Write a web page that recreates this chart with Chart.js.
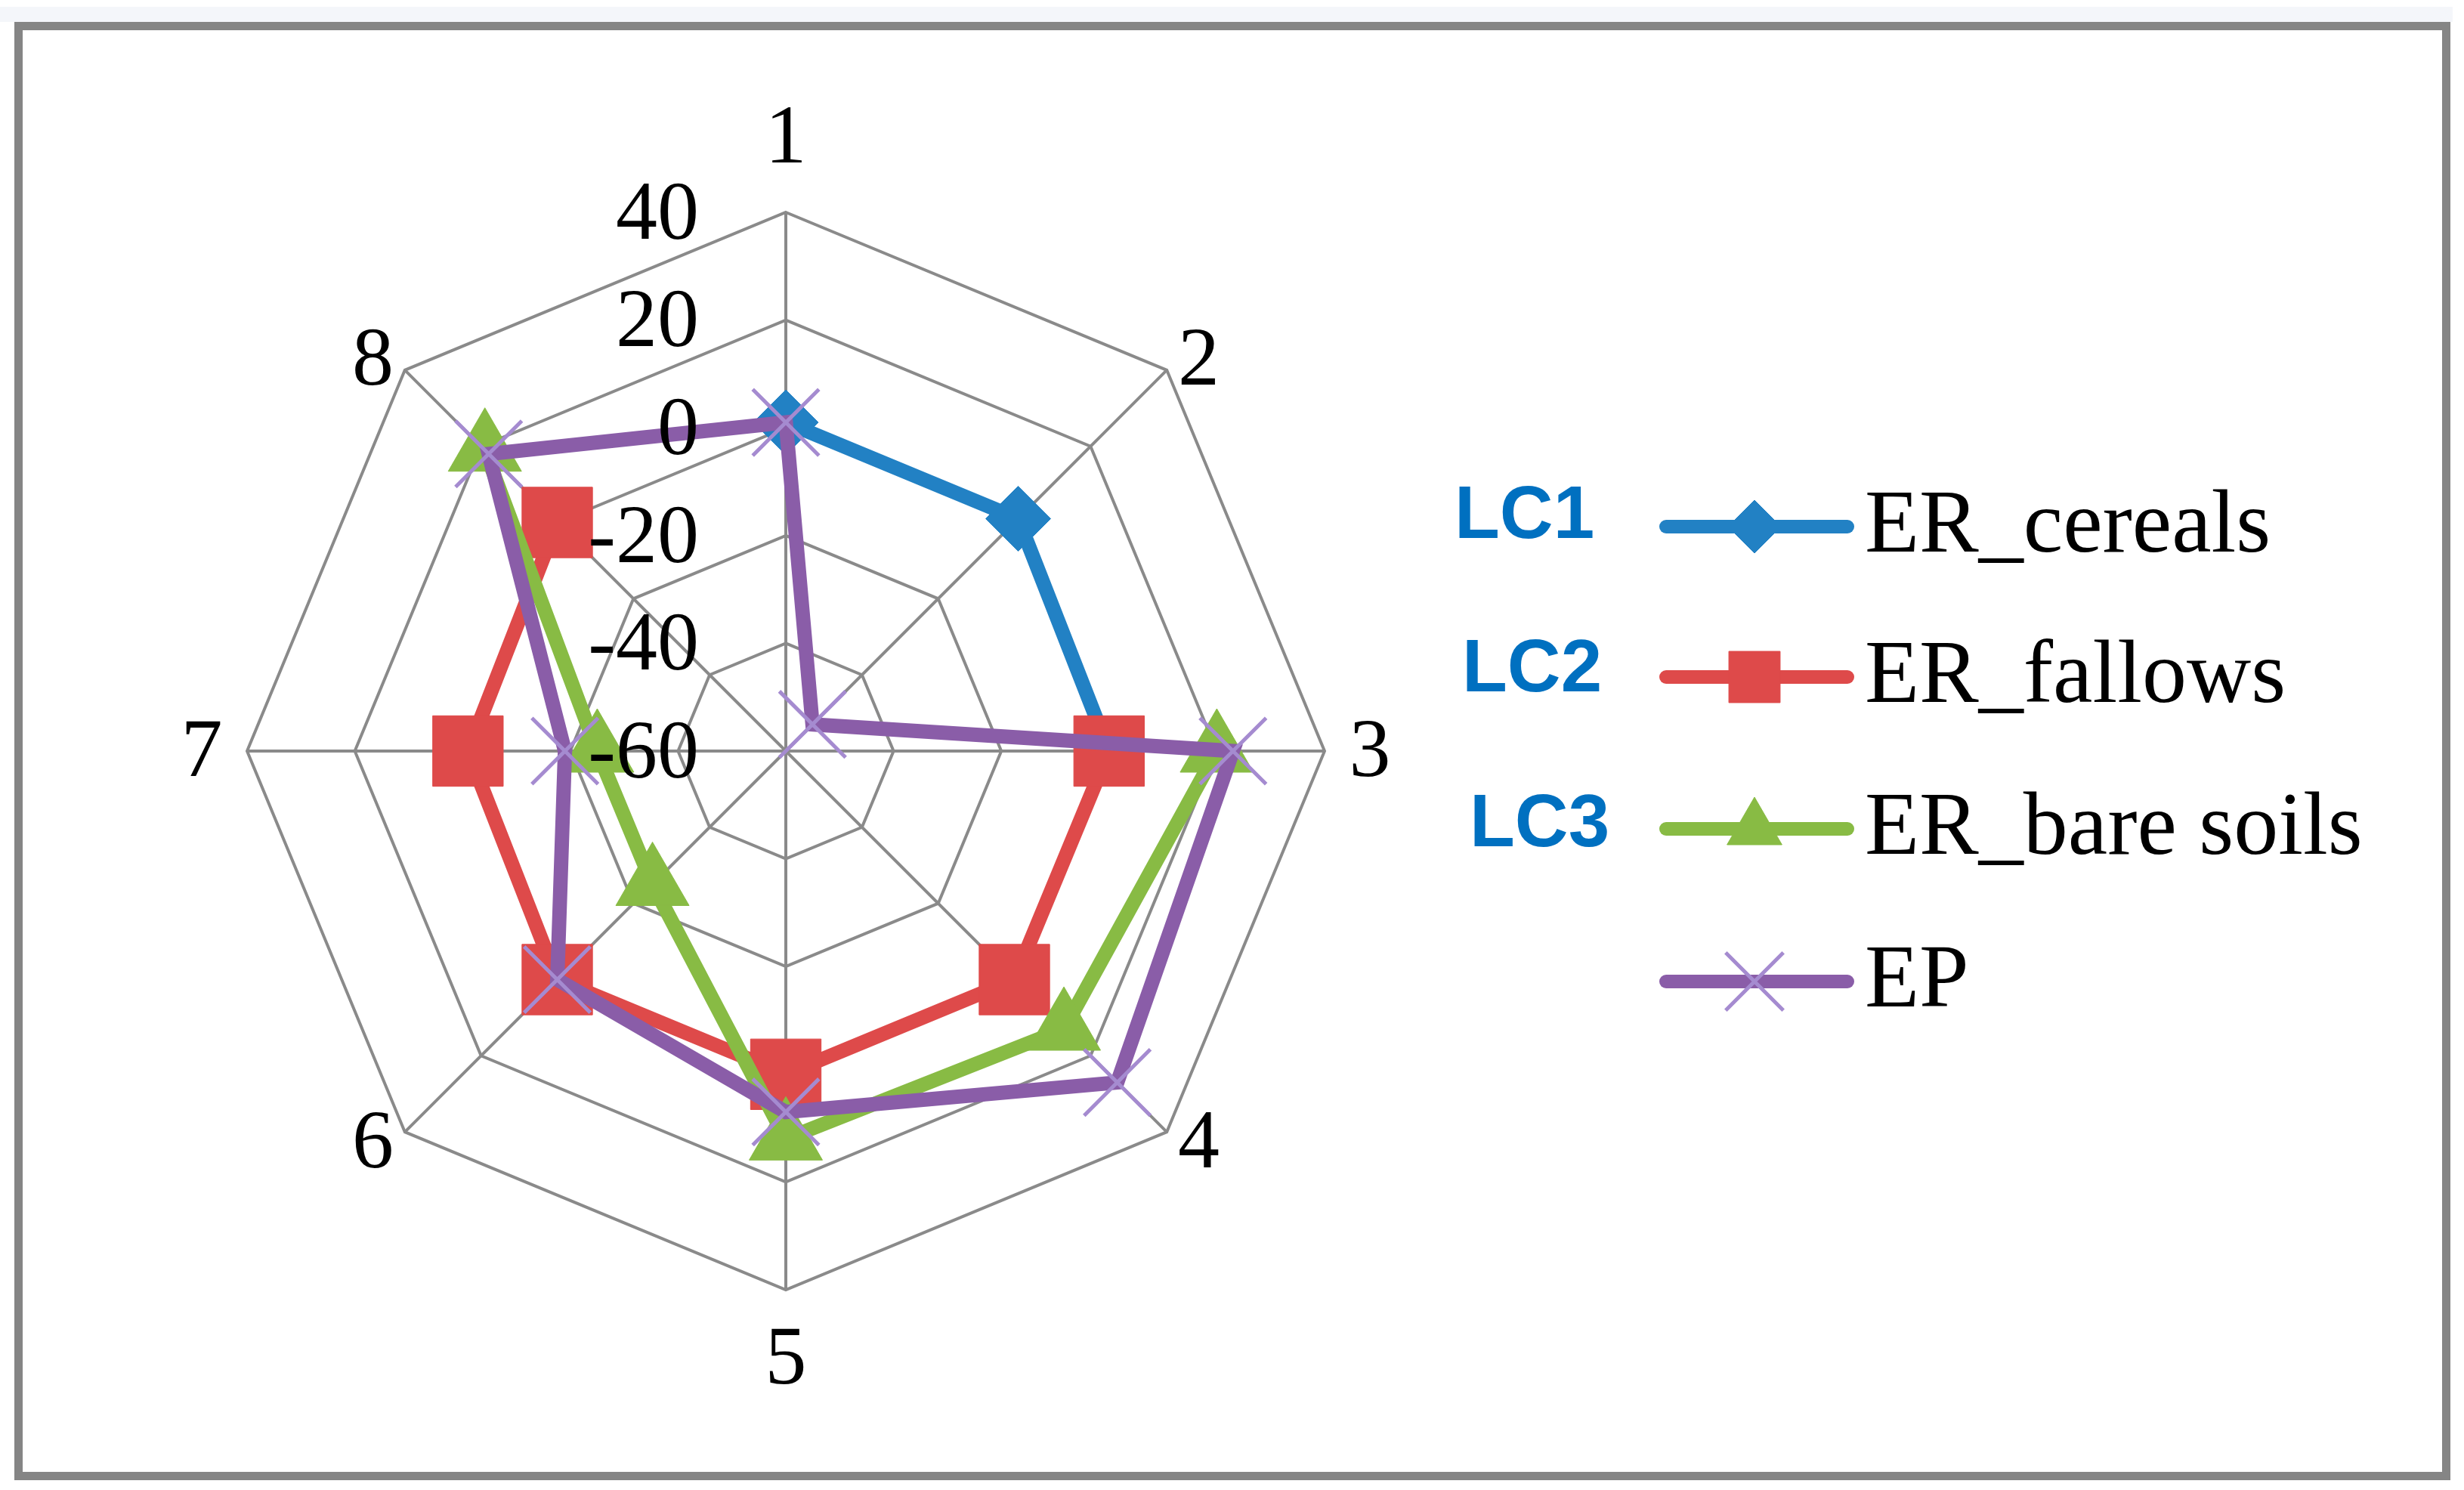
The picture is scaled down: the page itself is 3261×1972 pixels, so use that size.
<!DOCTYPE html>
<html>
<head>
<meta charset="utf-8">
<script src="https://cdn.jsdelivr.net/npm/chart.js@4.4.1/dist/chart.umd.min.js"></script>
<style>
  html, body { margin: 0; padding: 0; background: #fff; }
  #wrap { position: relative; width: 3261px; height: 1972px; overflow: hidden; background: #fff; }
  #band { position: absolute; left: 0; top: 9px; width: 3246px; height: 20px; background: #F4F6FA; }
  #frame { position: absolute; left: 19px; top: 29px; width: 3202px; height: 1908px; border: 11px solid #858585; background: #fff; }
  #radar { position: absolute; left: 0; top: 0; }
</style>
</head>
<body>
<div id="wrap">
  <div id="band"></div>
  <div id="frame"></div>
  <canvas id="radar" width="3261" height="1972"></canvas>
</div>
<script>
// ====== DATA ======
const axisLabels = ['1', '2', '3', '4', '5', '6', '7', '8'];
const tickLabels = [-60, -40, -20, 0, 20, 40];

const erCereals = [1, 1, 0, null, null, null, null, null];
const erFallows = [null, null, 0, 0, 0, 0, -1, 0];
const erBareSoils = [null, null, 20, 13, 12, -25, -25, 19];
const ep = [1, -53, 23, 27, 7, 0, -19, 18];

const legendNames = ['ER_cereals', 'ER_fallows', 'ER_bare soils', 'EP'];
const zoneNames = ['LC1', 'LC2', 'LC3', ''];

// ====== STYLE ======
const BLUE = '#2281C4';
const RED = '#DE4A4A';
const GREEN = '#88BB44';
const PURPLE = '#8A5DA8';
const CROSS = '#A58BD0';
const GRID = '#8A8A8A';
const SERIF = '"Liberation Serif", "Times New Roman", serif';

// legend markers (slightly smaller than plot markers)
const legendMarks = [
  { style: 'rectRot', radius: 35, fill: BLUE, stroke: BLUE, bw: 1 },
  { style: 'rect', radius: 48, fill: RED, stroke: RED, bw: 1 },
  { style: 'triangle', radius: 42, fill: GREEN, stroke: GREEN, bw: 1 },
  { style: 'crossRot', radius: 54, fill: CROSS, stroke: CROSS, bw: 5 }
];
const legendLines = [BLUE, RED, GREEN, PURPLE];

function markPath(ctx, m, x, y) {
  if (Chart.helpers && Chart.helpers.drawPoint) {
    Chart.helpers.drawPoint(ctx, { pointStyle: m.style, radius: m.radius, rotation: 0, borderWidth: m.bw }, x, y);
    return;
  }
  ctx.beginPath();
  ctx.arc(x, y, m.radius * 0.7, 0, Math.PI * 2);
  ctx.fill();
}

// ====== LABEL PLUGIN ======
const radarText = {
  id: 'radarText',
  afterDatasetsDraw(chart) {
    const s = chart.scales.r;
    const ctx = chart.ctx;
    ctx.save();
    ctx.fillStyle = '#000';
    ctx.font = '110px ' + SERIF;

    // value labels, left of the vertical axis
    ctx.textAlign = 'right';
    ctx.textBaseline = 'middle';
    tickLabels.forEach(v => {
      const p = s.getPointPositionForValue(0, v);
      ctx.fillText(String(v), s.xCenter - 115, p.y + 6);
    });

    // category labels round the outer ring
    ctx.textAlign = 'center';
    axisLabels.forEach((lab, i) => {
      const p = s.getPointPosition(i, s.drawingArea);
      const a = s.getIndexAngle(i);
      const ax = Math.sin(a), ay = -Math.cos(a);
      const dx = ax * 60;
      const dy = Math.abs(ay) > 0.9 ? ay * 95 : ay * 20 + 4;
      ctx.fillText(lab, p.x + dx, p.y + dy);
    });
    ctx.restore();
  },
  afterDraw(chart) {
    const ctx = chart.ctx;
    const rowY = [697, 896, 1097, 1299];
    ctx.save();
    legendNames.forEach((name, i) => {
      const y = rowY[i];
      // zone tag
      if (zoneNames[i]) {
        ctx.fillStyle = '#0070C0';
        ctx.font = 'bold 98px "Liberation Sans", Arial, sans-serif';
        ctx.textAlign = 'left';
        ctx.textBaseline = 'middle';
        ctx.fillText(zoneNames[i], 1925 + i * 10, y - 12 + i * 4);
      }
      // line sample
      ctx.strokeStyle = legendLines[i];
      ctx.lineWidth = 18;
      ctx.lineCap = 'round';
      ctx.beginPath();
      ctx.moveTo(2205, y);
      ctx.lineTo(2445, y);
      ctx.stroke();
      // marker
      const m = legendMarks[i];
      ctx.fillStyle = m.fill;
      ctx.strokeStyle = m.stroke;
      ctx.lineWidth = m.bw;
      ctx.lineCap = 'butt';
      markPath(ctx, m, 2322, y);
      // name
      ctx.fillStyle = '#000';
      ctx.font = '118px ' + SERIF;
      ctx.textAlign = 'left';
      ctx.textBaseline = 'middle';
      ctx.fillText(name, 2468, y + 2);
    });
    ctx.restore();
  }
};

// ====== CHART ======
function series(label, data, color, style, radius, order, extra) {
  return Object.assign({
    label: label,
    data: data,
    borderColor: color,
    backgroundColor: color,
    borderWidth: 19,
    fill: false,
    tension: 0,
    pointStyle: style,
    pointRadius: radius,
    pointHoverRadius: radius,
    pointBackgroundColor: color,
    pointBorderColor: color,
    pointBorderWidth: 1,
    order: order
  }, extra || {});
}

new Chart(document.getElementById('radar'), {
  type: 'radar',
  data: {
    labels: axisLabels,
    datasets: [
      series('ER_cereals', erCereals, BLUE, 'rectRot', 43, 4),
      series('ER_fallows', erFallows, RED, 'rect', 66, 3),
      series('ER_bare soils', erBareSoils, GREEN, 'triangle', 56, 2),
      series('EP', ep, PURPLE, 'crossRot', 62, 1, { pointBorderColor: CROSS, pointBorderWidth: 5 })
    ]
  },
  options: {
    responsive: false,
    devicePixelRatio: 1,
    animation: false,
    spanGaps: false,
    layout: { padding: { left: 327, top: 281, right: 1508, bottom: 265 } },
    plugins: { legend: { display: false }, tooltip: { enabled: false } },
    scales: {
      r: {
        min: -60,
        max: 40,
        beginAtZero: false,
        ticks: { stepSize: 20, display: false },
        grid: { color: GRID, lineWidth: 4 },
        angleLines: { color: GRID, lineWidth: 4 },
        pointLabels: { display: false }
      }
    }
  },
  plugins: [radarText]
});
</script>
</body>
</html>
